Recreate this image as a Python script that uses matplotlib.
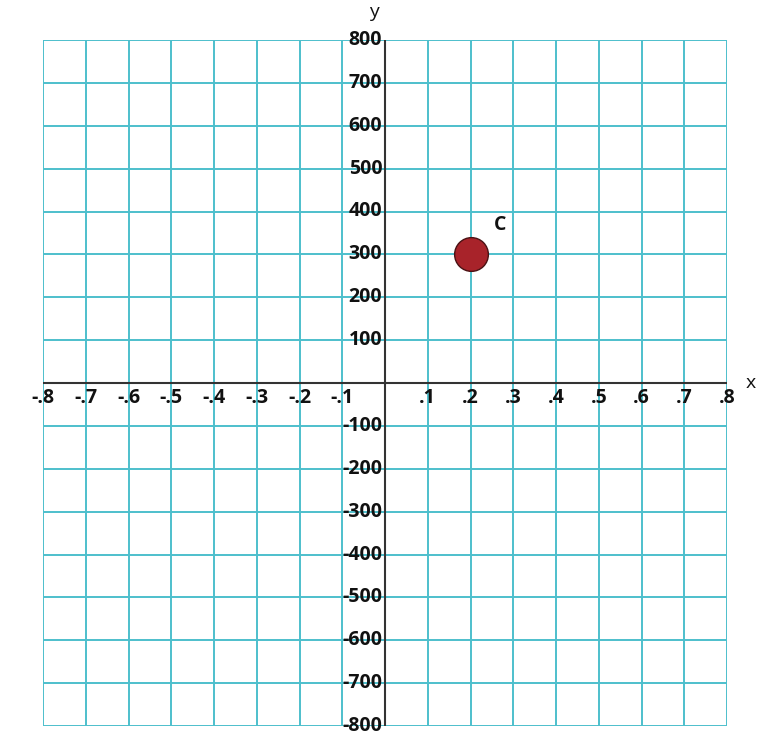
import matplotlib.pyplot as plt
import numpy as np

# Data
x_ticks = [-0.8, -0.7, -0.6, -0.5, -0.4, -0.3, -0.2, -0.1, 0.1, 0.2, 0.3, 0.4, 0.5, 0.6, 0.7, 0.8]
x_labels = ['-.8', '-.7', '-.6', '-.5', '-.4', '-.3', '-.2', '-.1',
            '.1', '.2', '.3', '.4', '.5', '.6', '.7', '.8']
y_ticks = [-800, -700, -600, -500, -400, -300, -200, -100, 100, 200, 300, 400, 500, 600, 700, 800]
y_labels = [str(v) for v in y_ticks]
point_x = [0.2]
point_y = [300]
point_names = ['C']

grid_color = '#4dbfcc'
axis_color = '#333333'

plt.rcParams['font.family'] = ['Open Sans', 'DejaVu Sans']

fig = plt.figure(figsize=(7.68, 7.51), dpi=100)
ax = fig.add_axes([43 / 768, 25 / 751, 684 / 768, 686 / 751])
ax.set_xlim(-0.8, 0.8)
ax.set_ylim(-800, 800)

# Grid
for xv in np.arange(-8, 9) / 10:
    ax.axvline(xv, color=grid_color, linewidth=1.4, zorder=1)
for yv in np.arange(-800, 801, 100):
    ax.axhline(yv, color=grid_color, linewidth=1.4, zorder=1)

# Main axes
ax.axhline(0, color=axis_color, linewidth=1.5, zorder=2)
ax.axvline(0, color=axis_color, linewidth=1.5, zorder=2)

for s in ax.spines.values():
    s.set_visible(False)
ax.set_xticks([])
ax.set_yticks([])

# Tick labels
for xv, lab in zip(x_ticks, x_labels):
    ax.annotate(lab, (xv, 0), xytext=(0, -11), textcoords='offset points',
                ha='center', va='center', fontsize=14, fontweight='bold',
                color='#111111', annotation_clip=False)
for yv, lab in zip(y_ticks, y_labels):
    ax.annotate(lab, (0, yv), xytext=(-2, 0), textcoords='offset points',
                ha='right', va='center', fontsize=14, fontweight='bold',
                color='#111111', annotation_clip=False)

# Axis names
ax.annotate('x', (0.8, 0), xytext=(17, 0), textcoords='offset points',
            ha='center', va='center', fontsize=14, color='#111111', annotation_clip=False)
ax.annotate('y', (0, 800), xytext=(-8, 20), textcoords='offset points',
            ha='center', va='center', fontsize=14, color='#111111', annotation_clip=False)

# Point
ax.scatter(point_x, point_y, s=590, color='#a8232a', edgecolor='#4a1214',
           linewidth=1.0, zorder=5, clip_on=False)
for px, py, name in zip(point_x, point_y, point_names):
    ax.annotate(name, (px, py), xytext=(21, 21), textcoords='offset points',
                ha='center', va='center', fontsize=14, fontweight='bold',
                color='#111111')

fig.savefig('out.png', dpi=100)
